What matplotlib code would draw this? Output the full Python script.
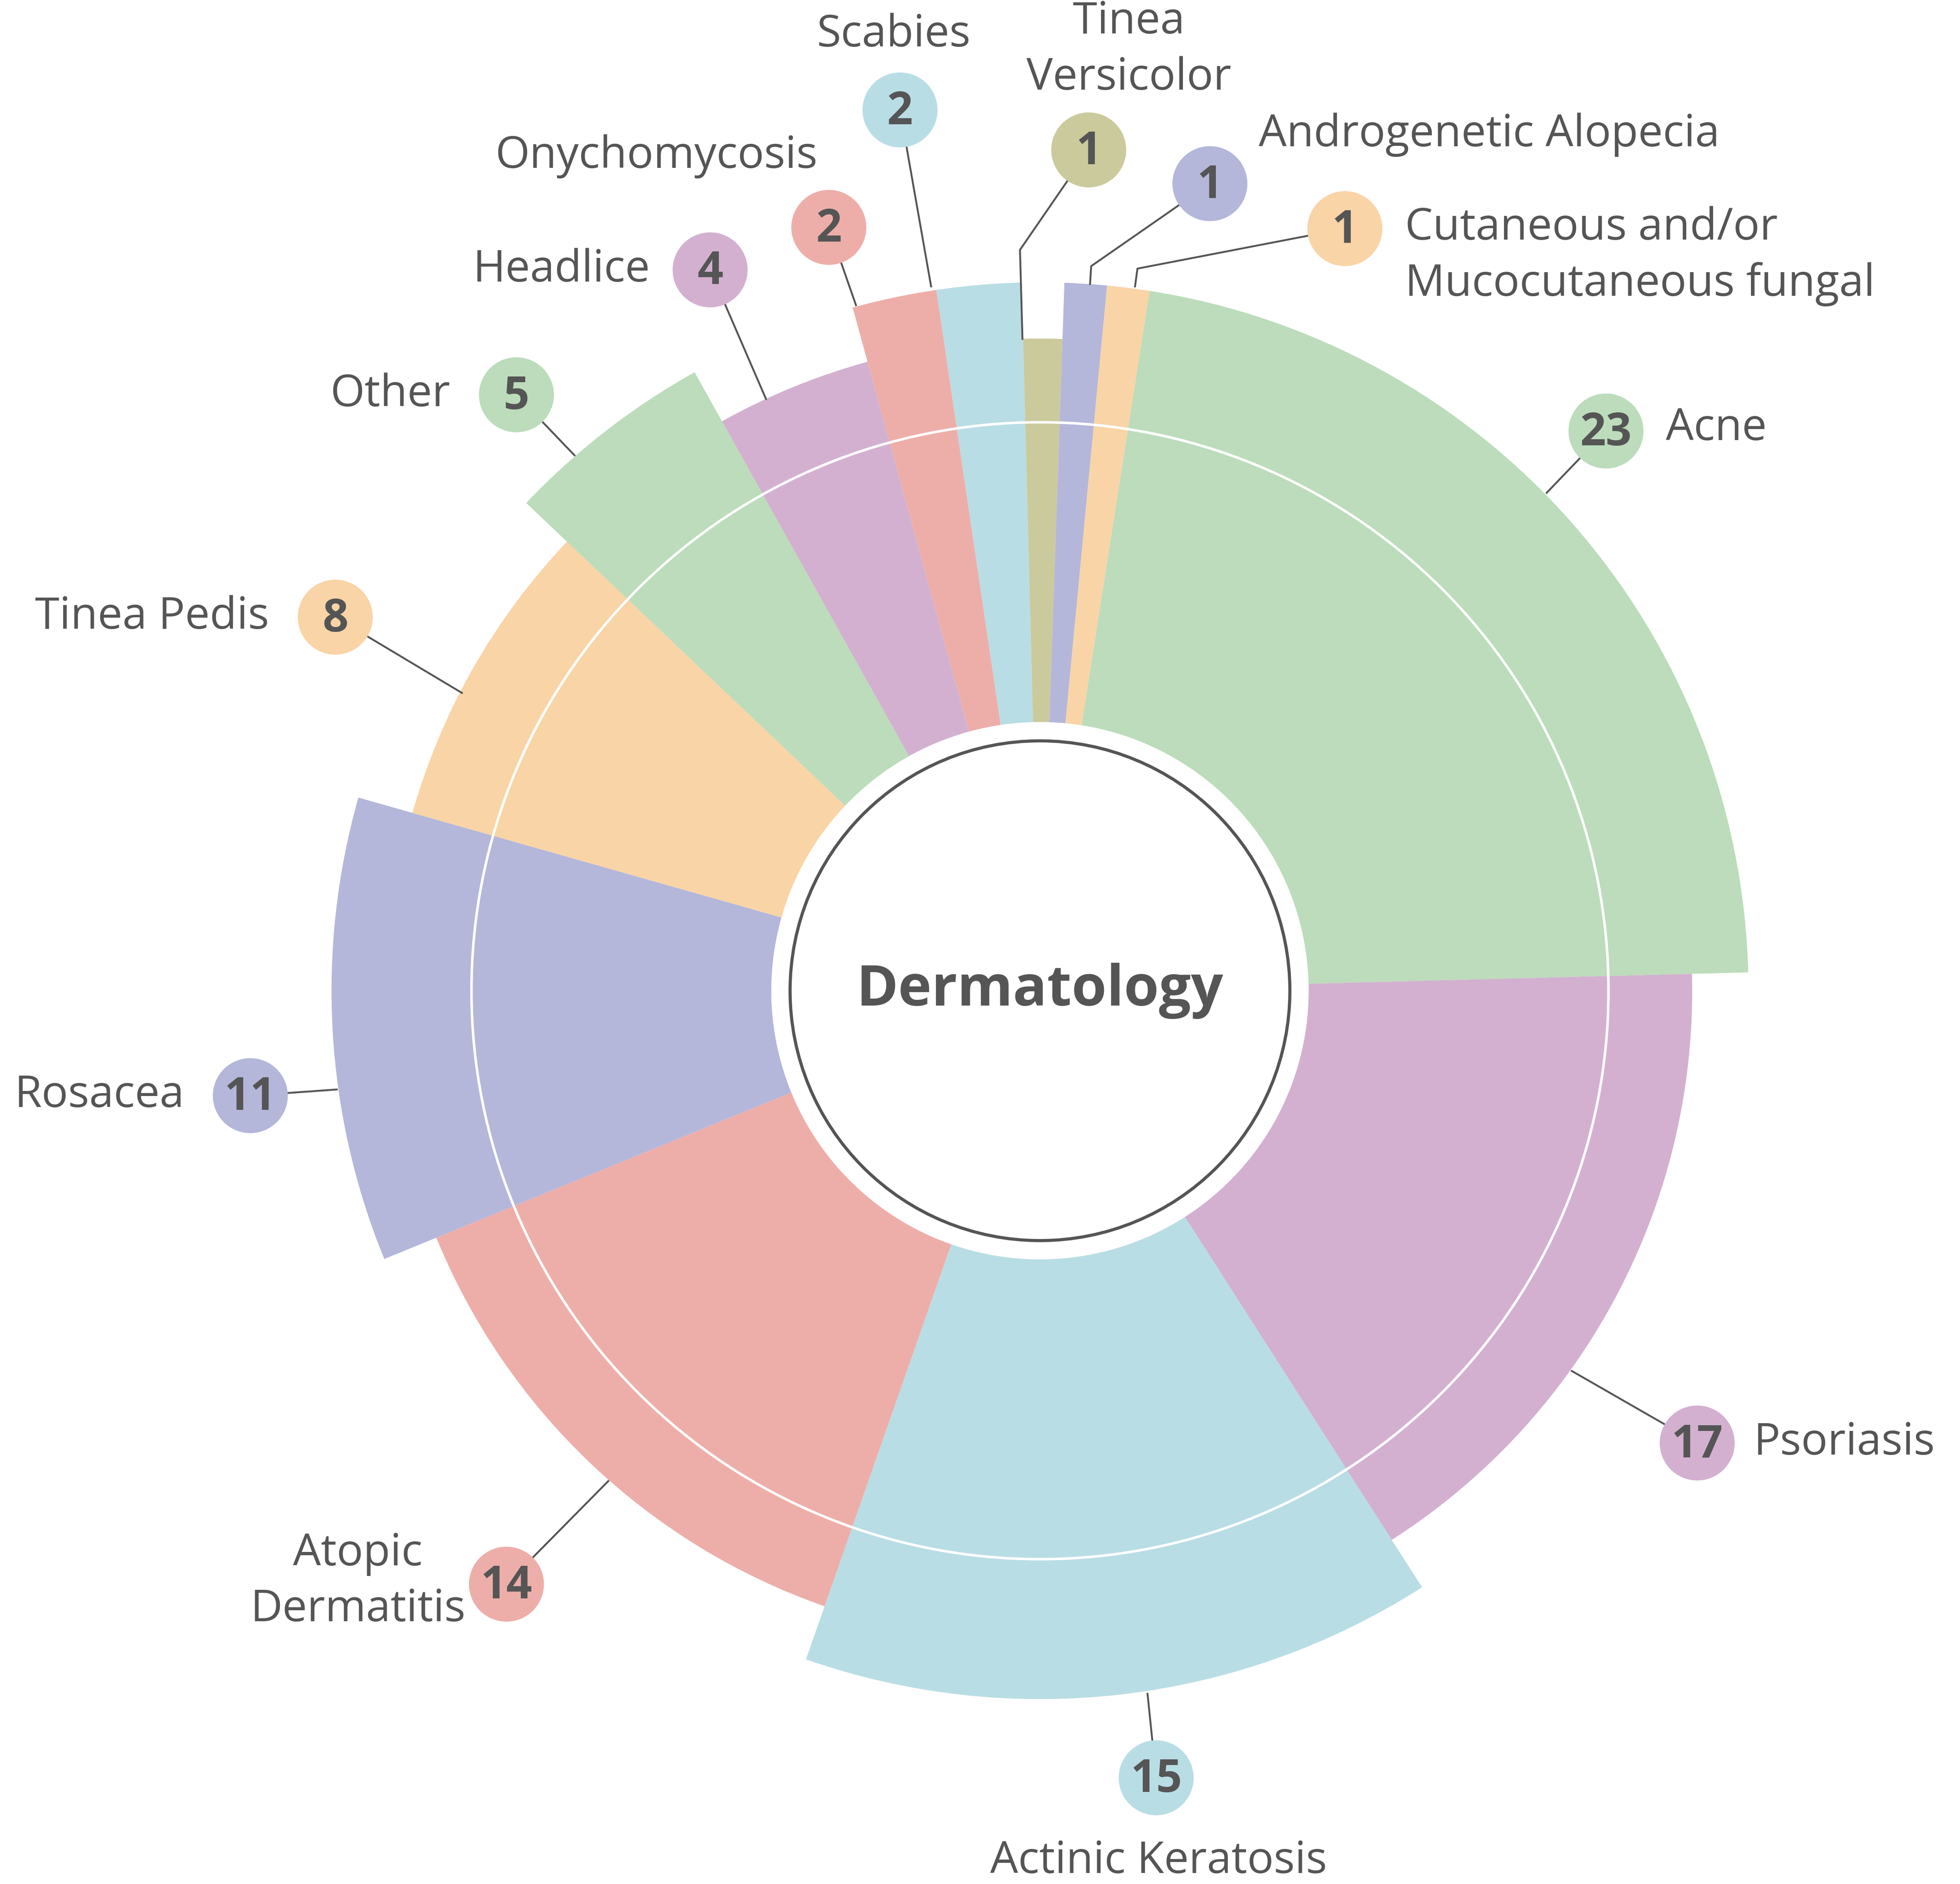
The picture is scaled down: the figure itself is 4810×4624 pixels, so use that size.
import matplotlib.pyplot as plt
from matplotlib.patches import Wedge, Circle
import numpy as np

# data
categories = ["Acne", "Psoriasis", "Actinic Keratosis", "Atopic\nDermatitis", "Rosacea",
              "Tinea Pedis", "Other", "Headlice", "Onychomycosis", "Scabies",
              "Tinea\nVersicolor", "Androgenetic Alopecia",
              "Cutaneous and/or\nMucocutaneous fungal"]
counts = [23, 17, 15, 14, 11, 8, 5, 4, 2, 2, 1, 1, 1]
long_bar = [1, 0, 1, 0, 1, 0, 1, 0, 1, 1, 0, 1, 1]
colors = ["#BCDCBB", "#D3B0D0", "#B9DDE4", "#EDAEAA", "#B4B7DA", "#F9D4A7", "#BCDCBB",
          "#D3B0D0", "#EDAEAA", "#B9DDE4", "#CBCA9C", "#B4B7DA", "#F9D4A7"]

# layout in reference pixel units (y down), converted below
W, H = 1568, 1508
CX, CY = 832, 793
bubbles = [(1285, 345), (1358, 1155), (925, 1423), (405, 1268), (200, 877), (268, 494),
           (413, 316), (568, 216), (663, 182), (720, 88), (871, 120), (968, 147), (1076, 183)]
label_pos = [(1333, 343, "left"), (1403, 1155, "left"), (927, 1490, "center"),
             (286, 1266, "center"), (147, 877, "right"), (215, 494, "right"),
             (360, 316, "right"), (520, 216, "right"), (525, 125, "center"),
             (715, 28, "center"), (903, 40, "center"), (1007, 108, "left"),
             (1124, 205, "left")]
leaders = [[(1237, 395)], [(1257, 1097)], [(918, 1355)], [(487, 1185)], [(270, 872)],
           [(370, 555)], [(460, 365)], [(613, 320)], [(685, 245)], [(745, 230)],
           [(816, 200), (818, 272)], [(873, 213), (872, 228)], [(910, 215), (908, 230)]]

GRAY = "#555555"
FONT = "Open Sans"


def P(x, y):
    return x, H - y


fig = plt.figure(figsize=(48.10, 46.24), dpi=100)
ax = fig.add_axes([0, 0, 1, 1])
ax.set_xlim(0, W)
ax.set_ylim(0, H)
ax.set_aspect("equal")
ax.axis("off")

c = P(CX, CY)
r_in = 215
total = sum(counts)
start = 8.9  # compass degrees, clockwise from north
for n, col, lg in zip(counts, colors, long_bar):
    span = n / total * 360
    r_out = 567 if lg else 522
    ax.add_patch(Wedge(c, r_out, 90 - (start + span), 90 - start, width=r_out - r_in,
                       facecolor=col, edgecolor="none"))
    start += span

ax.add_patch(Circle(c, 455, facecolor="none", edgecolor="white", lw=4.5, zorder=3))
ax.add_patch(Circle(c, r_in, facecolor="white", edgecolor="none", zorder=3))
ax.add_patch(Circle(c, 200, facecolor="white", edgecolor=GRAY, lw=5.5, zorder=4))
ax.text(*c, "Dermatology", ha="center", va="center", fontsize=100, fontweight="bold",
        color=GRAY, family=FONT, zorder=5)

for i, name in enumerate(categories):
    bx, by = bubbles[i]
    pts = [(bx, by)] + leaders[i]
    xs, ys = zip(*[P(x, y) for x, y in pts])
    ax.plot(xs, ys, color=GRAY, lw=3.3, zorder=5, solid_capstyle="butt")
    ax.add_patch(Circle(P(bx, by), 30, facecolor=colors[i], edgecolor="none", zorder=6))
    ax.text(*P(bx, by + 2), str(counts[i]), ha="center", va="center", fontsize=80,
            fontweight="bold", color=GRAY, family=FONT, zorder=7)
    lx, ly, ha = label_pos[i]
    ax.text(*P(lx, ly), name, ha=ha, va="center", fontsize=78, color=GRAY, family=FONT,
            linespacing=1.35, multialignment=ha if ha != "right" else "right", zorder=7)

fig.savefig("out.png", dpi=100, facecolor="white")
